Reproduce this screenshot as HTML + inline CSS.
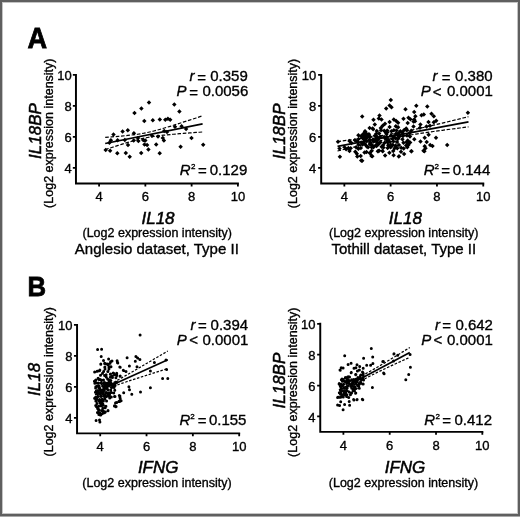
<!DOCTYPE html><html><head><meta charset="utf-8"><style>
html,body{margin:0;padding:0;background:#fff;width:520px;height:517px;overflow:hidden}
svg{display:block}
text{font-family:"Liberation Sans",Arial,sans-serif;fill:#000;stroke:#000;stroke-width:0.35px}
.t{font-size:13px}
.s{font-size:15px}
.i{font-style:italic}
.ti{font-size:17px;font-style:italic;stroke-width:0.5px}
.lg{font-size:12.5px}
.ds{font-size:15px}
.pl{font-size:28.5px;font-weight:bold;stroke-width:0.8px}
</style></head><body>
<div><svg width="520" height="517" viewBox="0 0 520 517">
<rect x="0" y="0" width="520" height="517" fill="#fff"/>
<rect x="2.5" y="2.5" width="515" height="511" fill="none" stroke="#c4c4c4" stroke-width="1"/>
<rect x="1" y="1" width="518" height="514" fill="none" stroke="#5f5f5f" stroke-width="2"/>
<rect x="0" y="516" width="520" height="1" fill="#a8a8a8"/>
<text class="pl" x="27.6" y="47.6" style="font-size:30px" textLength="19.6" lengthAdjust="spacingAndGlyphs">A</text>
<text class="pl" x="27.4" y="295.5" textLength="18.6" lengthAdjust="spacingAndGlyphs">B</text>
<path d="M75.95 74.85V183.4H237.9" fill="none" stroke="#000" stroke-width="1.95" stroke-linejoin="miter" stroke-linecap="square"/>
<path d="M75.95 167.89h-3.1M99.09 183.4v3M75.95 136.88h-3.1M145.36 183.4v3M75.95 105.86h-3.1M191.63 183.4v3M75.95 74.85h-3.1M237.9 183.4v3" fill="none" stroke="#000" stroke-width="1.8"/>
<text class="t" x="71.7" y="173.39" text-anchor="end">4</text>
<text class="t" x="99.09" y="201.2" text-anchor="middle">4</text>
<text class="t" x="71.7" y="142.38" text-anchor="end">6</text>
<text class="t" x="145.36" y="201.2" text-anchor="middle">6</text>
<text class="t" x="71.7" y="111.36" text-anchor="end">8</text>
<text class="t" x="191.63" y="201.2" text-anchor="middle">8</text>
<text class="t" x="71.7" y="80.35" text-anchor="end">10</text>
<text class="t" x="237.9" y="201.2" text-anchor="middle">10</text>
<text class="s i" x="189.38" y="81.4">r</text>
<text class="s" x="197.35" y="82.6">=</text>
<text class="s" x="210.2" y="81.4">0.359</text>
<text class="s i" x="176.45" y="96.4">P</text>
<text class="s" x="189.15" y="97.6">=</text>
<text class="s" x="202.4" y="96.4">0.0056</text>
<text class="s i" x="179.85" y="174.5">R</text>
<text x="191.1" y="169.06" font-size="8">2</text>
<text class="s" x="198.05" y="175.7">=</text>
<text class="s" x="209.7" y="174.5">0.129</text>
<text class="ti" x="158" y="223.7" text-anchor="middle">IL18</text>
<text class="lg" x="157.2" y="236.6" text-anchor="middle">(Log2 expression intensity)</text>
<text class="ds" x="156.8" y="253.6" text-anchor="middle">Anglesio dataset, Type II</text>
<text class="ti" text-anchor="middle" transform="translate(40.6 131) rotate(-90)">IL18BP</text>
<text class="lg" text-anchor="middle" transform="translate(52.8 133.2) rotate(-90)">(Log2 expression intensity)</text>
<path d="M149 100.25l2.25 2.25-2.25 2.25-2.25-2.25zM141.4 106.15l2.25 2.25-2.25 2.25-2.25-2.25zM134.5 110.65l2.25 2.25-2.25 2.25-2.25-2.25zM174.3 102.25l2.25 2.25-2.25 2.25-2.25-2.25zM179.4 109.35l2.25 2.25-2.25 2.25-2.25-2.25zM144.3 118.75l2.25 2.25-2.25 2.25-2.25-2.25zM152.8 118.05l2.25 2.25-2.25 2.25-2.25-2.25zM159.8 117.15l2.25 2.25-2.25 2.25-2.25-2.25zM165.3 117.45l2.25 2.25-2.25 2.25-2.25-2.25zM167.9 116.45l2.25 2.25-2.25 2.25-2.25-2.25zM170.2 117.55l2.25 2.25-2.25 2.25-2.25-2.25zM175 124.55l2.25 2.25-2.25 2.25-2.25-2.25zM181.6 123.95l2.25 2.25-2.25 2.25-2.25-2.25zM186.1 126.75l2.25 2.25-2.25 2.25-2.25-2.25zM113.5 132.35l2.25 2.25-2.25 2.25-2.25-2.25zM122.6 129.15l2.25 2.25-2.25 2.25-2.25-2.25zM127.8 128.05l2.25 2.25-2.25 2.25-2.25-2.25zM133.9 131.05l2.25 2.25-2.25 2.25-2.25-2.25zM164.2 128.75l2.25 2.25-2.25 2.25-2.25-2.25zM167 129.75l2.25 2.25-2.25 2.25-2.25-2.25zM152 133.55l2.25 2.25-2.25 2.25-2.25-2.25zM158 134.35l2.25 2.25-2.25 2.25-2.25-2.25zM162.8 135.65l2.25 2.25-2.25 2.25-2.25-2.25zM163.9 138.25l2.25 2.25-2.25 2.25-2.25-2.25zM110.9 137.95l2.25 2.25-2.25 2.25-2.25-2.25zM109.4 140.55l2.25 2.25-2.25 2.25-2.25-2.25zM117.6 137.95l2.25 2.25-2.25 2.25-2.25-2.25zM124.8 137.65l2.25 2.25-2.25 2.25-2.25-2.25zM133.7 138.35l2.25 2.25-2.25 2.25-2.25-2.25zM138 135.75l2.25 2.25-2.25 2.25-2.25-2.25zM138.4 138.75l2.25 2.25-2.25 2.25-2.25-2.25zM143.2 137.85l2.25 2.25-2.25 2.25-2.25-2.25zM145.3 138.35l2.25 2.25-2.25 2.25-2.25-2.25zM191.5 135.85l2.25 2.25-2.25 2.25-2.25-2.25zM128 142.75l2.25 2.25-2.25 2.25-2.25-2.25zM144.5 142.15l2.25 2.25-2.25 2.25-2.25-2.25zM147.1 142.75l2.25 2.25-2.25 2.25-2.25-2.25zM156.2 142.35l2.25 2.25-2.25 2.25-2.25-2.25zM148.4 147.35l2.25 2.25-2.25 2.25-2.25-2.25zM180.6 144.45l2.25 2.25-2.25 2.25-2.25-2.25zM203.2 142.45l2.25 2.25-2.25 2.25-2.25-2.25zM105.7 147.75l2.25 2.25-2.25 2.25-2.25-2.25zM110.1 148.45l2.25 2.25-2.25 2.25-2.25-2.25zM117.3 150.95l2.25 2.25-2.25 2.25-2.25-2.25zM125.8 150.65l2.25 2.25-2.25 2.25-2.25-2.25zM129.7 154.45l2.25 2.25-2.25 2.25-2.25-2.25zM141.2 150.75l2.25 2.25-2.25 2.25-2.25-2.25zM159.7 150.95l2.25 2.25-2.25 2.25-2.25-2.25z" fill="#000"/>
<path d="M105.2 143.5L202.6 123.9" stroke="#000" stroke-width="1.7" fill="none"/>
<path d="M105.2 137.41 L108.45 137.16 L111.69 136.9 L114.94 136.63 L118.19 136.35 L121.43 136.06 L124.68 135.75 L127.93 135.42 L131.17 135.06 L134.42 134.67 L137.67 134.22 L140.91 133.72 L144.16 133.15 L147.41 132.5 L150.65 131.77 L153.9 130.98 L157.15 130.12 L160.39 129.22 L163.64 128.27 L166.89 127.3 L170.13 126.31 L173.38 125.29 L176.63 124.27 L179.87 123.23 L183.12 122.19 L186.37 121.13 L189.61 120.08 L192.86 119.01 L196.11 117.95 L199.35 116.88 L202.6 115.81" stroke="#000" stroke-width="1.2" fill="none" stroke-dasharray="3.6 1.7"/>
<path d="M105.2 149.59 L108.45 148.53 L111.69 147.49 L114.94 146.45 L118.19 145.42 L121.43 144.41 L124.68 143.41 L127.93 142.43 L131.17 141.49 L134.42 140.57 L137.67 139.71 L140.91 138.91 L144.16 138.17 L147.41 137.51 L150.65 136.93 L153.9 136.42 L157.15 135.97 L160.39 135.57 L163.64 135.21 L166.89 134.87 L170.13 134.56 L173.38 134.27 L176.63 133.98 L179.87 133.72 L183.12 133.45 L186.37 133.2 L189.61 132.95 L192.86 132.71 L196.11 132.47 L199.35 132.23 L202.6 131.99" stroke="#000" stroke-width="1.2" fill="none" stroke-dasharray="3.6 1.7"/>
<path d="M321.2 74.95V183.45H483.26" fill="none" stroke="#000" stroke-width="1.95" stroke-linejoin="miter" stroke-linecap="square"/>
<path d="M321.2 167.95h-3.1M344.35 183.45v3M321.2 136.95h-3.1M390.65 183.45v3M321.2 105.95h-3.1M436.96 183.45v3M321.2 74.95h-3.1M483.26 183.45v3" fill="none" stroke="#000" stroke-width="1.8"/>
<text class="t" x="316.2" y="173.45" text-anchor="end">4</text>
<text class="t" x="344.35" y="201.2" text-anchor="middle">4</text>
<text class="t" x="316.2" y="142.45" text-anchor="end">6</text>
<text class="t" x="390.65" y="201.2" text-anchor="middle">6</text>
<text class="t" x="316.2" y="111.45" text-anchor="end">8</text>
<text class="t" x="436.96" y="201.2" text-anchor="middle">8</text>
<text class="t" x="316.2" y="80.45" text-anchor="end">10</text>
<text class="t" x="483.26" y="201.2" text-anchor="middle">10</text>
<text class="s i" x="432.57" y="81.4">r</text>
<text class="s" x="441.85" y="82.6">=</text>
<text class="s" x="455.1" y="81.4">0.380</text>
<text class="s i" x="420.65" y="96.4">P</text>
<text class="s" x="432.65" y="96.7">&lt;</text>
<text class="s" x="447" y="96.4">0.0001</text>
<text class="s i" x="423.75" y="174.5">R</text>
<text x="434.6" y="169.06" font-size="8">2</text>
<text class="s" x="441.15" y="175.7">=</text>
<text class="s" x="452.7" y="174.5">0.144</text>
<text class="ti" x="405.4" y="223.7" text-anchor="middle">IL18</text>
<text class="lg" x="403.7" y="236.6" text-anchor="middle">(Log2 expression intensity)</text>
<text class="ds" x="403.8" y="253.9" text-anchor="middle">Tothill dataset, Type II</text>
<text class="ti" text-anchor="middle" transform="translate(284.6 131.4) rotate(-90)">IL18BP</text>
<text class="lg" text-anchor="middle" transform="translate(297 133.5) rotate(-90)">(Log2 expression intensity)</text>
<path d="M390.8 97.75l2.25 2.25-2.25 2.25-2.25-2.25zM389.6 103.15l2.25 2.25-2.25 2.25-2.25-2.25zM391.5 105.05l2.25 2.25-2.25 2.25-2.25-2.25zM386.2 106.25l2.25 2.25-2.25 2.25-2.25-2.25zM379.5 113.35l2.25 2.25-2.25 2.25-2.25-2.25zM378.8 116.25l2.25 2.25-2.25 2.25-2.25-2.25zM381.5 117.25l2.25 2.25-2.25 2.25-2.25-2.25zM373.5 117.55l2.25 2.25-2.25 2.25-2.25-2.25zM374.8 122.35l2.25 2.25-2.25 2.25-2.25-2.25zM389.6 119.65l2.25 2.25-2.25 2.25-2.25-2.25zM393.8 117.25l2.25 2.25-2.25 2.25-2.25-2.25zM396.2 118.75l2.25 2.25-2.25 2.25-2.25-2.25zM398.1 120.45l2.25 2.25-2.25 2.25-2.25-2.25zM389.6 124.65l2.25 2.25-2.25 2.25-2.25-2.25zM395.8 123.95l2.25 2.25-2.25 2.25-2.25-2.25zM398.1 125.05l2.25 2.25-2.25 2.25-2.25-2.25zM403.5 116.55l2.25 2.25-2.25 2.25-2.25-2.25zM385 121.55l2.25 2.25-2.25 2.25-2.25-2.25zM382.7 123.55l2.25 2.25-2.25 2.25-2.25-2.25zM380.8 125.85l2.25 2.25-2.25 2.25-2.25-2.25zM369.6 125.85l2.25 2.25-2.25 2.25-2.25-2.25zM372.7 126.25l2.25 2.25-2.25 2.25-2.25-2.25zM405.5 107.05l2.25 2.25-2.25 2.25-2.25-2.25zM362.2 114.15l2.25 2.25-2.25 2.25-2.25-2.25zM416.3 103.55l2.25 2.25-2.25 2.25-2.25-2.25zM427.3 104.25l2.25 2.25-2.25 2.25-2.25-2.25zM414.2 109.65l2.25 2.25-2.25 2.25-2.25-2.25zM421.5 112.95l2.25 2.25-2.25 2.25-2.25-2.25zM423.8 112.35l2.25 2.25-2.25 2.25-2.25-2.25zM431.5 111.55l2.25 2.25-2.25 2.25-2.25-2.25zM433.8 113.95l2.25 2.25-2.25 2.25-2.25-2.25zM415.4 113.95l2.25 2.25-2.25 2.25-2.25-2.25zM408.5 115.45l2.25 2.25-2.25 2.25-2.25-2.25zM410.4 116.95l2.25 2.25-2.25 2.25-2.25-2.25zM414.2 117.35l2.25 2.25-2.25 2.25-2.25-2.25zM415 118.95l2.25 2.25-2.25 2.25-2.25-2.25zM413.5 119.25l2.25 2.25-2.25 2.25-2.25-2.25zM407.7 120.85l2.25 2.25-2.25 2.25-2.25-2.25zM428.5 119.65l2.25 2.25-2.25 2.25-2.25-2.25zM433.8 120.05l2.25 2.25-2.25 2.25-2.25-2.25zM436.2 118.55l2.25 2.25-2.25 2.25-2.25-2.25zM420.4 122.35l2.25 2.25-2.25 2.25-2.25-2.25zM413.5 124.15l2.25 2.25-2.25 2.25-2.25-2.25zM406.2 126.25l2.25 2.25-2.25 2.25-2.25-2.25zM430 123.55l2.25 2.25-2.25 2.25-2.25-2.25zM426.5 124.25l2.25 2.25-2.25 2.25-2.25-2.25zM420 125.45l2.25 2.25-2.25 2.25-2.25-2.25zM467.9 110.45l2.25 2.25-2.25 2.25-2.25-2.25zM338 139.55l2.25 2.25-2.25 2.25-2.25-2.25zM339.9 154.55l2.25 2.25-2.25 2.25-2.25-2.25zM339.5 146.15l2.25 2.25-2.25 2.25-2.25-2.25zM365.3 129.25l2.25 2.25-2.25 2.25-2.25-2.25zM358.4 133.05l2.25 2.25-2.25 2.25-2.25-2.25zM349.5 138.85l2.25 2.25-2.25 2.25-2.25-2.25zM354.9 138.05l2.25 2.25-2.25 2.25-2.25-2.25zM351.5 140.75l2.25 2.25-2.25 2.25-2.25-2.25zM348.4 145.75l2.25 2.25-2.25 2.25-2.25-2.25zM350.7 145.95l2.25 2.25-2.25 2.25-2.25-2.25zM349.5 148.85l2.25 2.25-2.25 2.25-2.25-2.25zM356.1 144.95l2.25 2.25-2.25 2.25-2.25-2.25zM358.4 146.55l2.25 2.25-2.25 2.25-2.25-2.25zM355.3 149.55l2.25 2.25-2.25 2.25-2.25-2.25zM356.8 151.55l2.25 2.25-2.25 2.25-2.25-2.25zM360.7 153.85l2.25 2.25-2.25 2.25-2.25-2.25zM362.2 158.45l2.25 2.25-2.25 2.25-2.25-2.25zM364.5 150.35l2.25 2.25-2.25 2.25-2.25-2.25zM366.8 144.25l2.25 2.25-2.25 2.25-2.25-2.25zM369.9 150.75l2.25 2.25-2.25 2.25-2.25-2.25zM371.5 153.85l2.25 2.25-2.25 2.25-2.25-2.25zM344.5 144.95l2.25 2.25-2.25 2.25-2.25-2.25zM346.1 146.95l2.25 2.25-2.25 2.25-2.25-2.25zM372.3 154.05l2.25 2.25-2.25 2.25-2.25-2.25zM370 150.95l2.25 2.25-2.25 2.25-2.25-2.25zM366.5 149.85l2.25 2.25-2.25 2.25-2.25-2.25zM377.8 149.05l2.25 2.25-2.25 2.25-2.25-2.25zM382.4 148.85l2.25 2.25-2.25 2.25-2.25-2.25zM385.1 153.25l2.25 2.25-2.25 2.25-2.25-2.25zM389.4 150.55l2.25 2.25-2.25 2.25-2.25-2.25zM393.2 148.85l2.25 2.25-2.25 2.25-2.25-2.25zM393.6 152.95l2.25 2.25-2.25 2.25-2.25-2.25zM399 154.05l2.25 2.25-2.25 2.25-2.25-2.25zM401 149.45l2.25 2.25-2.25 2.25-2.25-2.25zM404.1 151.75l2.25 2.25-2.25 2.25-2.25-2.25zM395.5 143.65l2.25 2.25-2.25 2.25-2.25-2.25zM388.2 139.75l2.25 2.25-2.25 2.25-2.25-2.25zM391 142.75l2.25 2.25-2.25 2.25-2.25-2.25zM388.5 144.75l2.25 2.25-2.25 2.25-2.25-2.25zM376.6 143.65l2.25 2.25-2.25 2.25-2.25-2.25zM381.6 144.45l2.25 2.25-2.25 2.25-2.25-2.25zM373.1 127.05l2.25 2.25-2.25 2.25-2.25-2.25zM365 128.95l2.25 2.25-2.25 2.25-2.25-2.25zM387.4 130.05l2.25 2.25-2.25 2.25-2.25-2.25zM368.1 132.85l2.25 2.25-2.25 2.25-2.25-2.25zM428.6 132.45l2.25 2.25-2.25 2.25-2.25-2.25zM436 135.55l2.25 2.25-2.25 2.25-2.25-2.25zM424.7 135.55l2.25 2.25-2.25 2.25-2.25-2.25zM414.3 137.05l2.25 2.25-2.25 2.25-2.25-2.25zM420.5 139.35l2.25 2.25-2.25 2.25-2.25-2.25zM426.7 139.75l2.25 2.25-2.25 2.25-2.25-2.25zM430.2 142.85l2.25 2.25-2.25 2.25-2.25-2.25zM432.5 143.65l2.25 2.25-2.25 2.25-2.25-2.25zM424.7 144.05l2.25 2.25-2.25 2.25-2.25-2.25zM425.5 145.95l2.25 2.25-2.25 2.25-2.25-2.25zM424.4 149.05l2.25 2.25-2.25 2.25-2.25-2.25zM411.6 149.05l2.25 2.25-2.25 2.25-2.25-2.25zM407.7 138.25l2.25 2.25-2.25 2.25-2.25-2.25zM408.5 141.35l2.25 2.25-2.25 2.25-2.25-2.25zM407.3 144.75l2.25 2.25-2.25 2.25-2.25-2.25zM410 134.35l2.25 2.25-2.25 2.25-2.25-2.25zM447.2 142.85l2.25 2.25-2.25 2.25-2.25-2.25zM355.8 150.05l2.25 2.25-2.25 2.25-2.25-2.25zM378.1 148.95l2.25 2.25-2.25 2.25-2.25-2.25zM398.8 154.25l2.25 2.25-2.25 2.25-2.25-2.25zM411.2 148.95l2.25 2.25-2.25 2.25-2.25-2.25zM423.5 148.55l2.25 2.25-2.25 2.25-2.25-2.25zM357.3 154.25l2.25 2.25-2.25 2.25-2.25-2.25zM361.2 158.15l2.25 2.25-2.25 2.25-2.25-2.25zM376.79 128.86l2.25 2.25-2.25 2.25-2.25-2.25zM381.02 128.01l2.25 2.25-2.25 2.25-2.25-2.25zM384.22 128.45l2.25 2.25-2.25 2.25-2.25-2.25zM387.24 128.15l2.25 2.25-2.25 2.25-2.25-2.25zM391.44 129.04l2.25 2.25-2.25 2.25-2.25-2.25zM393.86 127.95l2.25 2.25-2.25 2.25-2.25-2.25zM396.49 128.26l2.25 2.25-2.25 2.25-2.25-2.25zM400.36 128.95l2.25 2.25-2.25 2.25-2.25-2.25zM403.95 127.9l2.25 2.25-2.25 2.25-2.25-2.25zM406.87 127.74l2.25 2.25-2.25 2.25-2.25-2.25zM411.25 128.6l2.25 2.25-2.25 2.25-2.25-2.25zM363.23 131.67l2.25 2.25-2.25 2.25-2.25-2.25zM366.55 131.61l2.25 2.25-2.25 2.25-2.25-2.25zM368.97 131.96l2.25 2.25-2.25 2.25-2.25-2.25zM376.21 131.54l2.25 2.25-2.25 2.25-2.25-2.25zM379.15 131.18l2.25 2.25-2.25 2.25-2.25-2.25zM386.23 130.96l2.25 2.25-2.25 2.25-2.25-2.25zM395.71 131.86l2.25 2.25-2.25 2.25-2.25-2.25zM398.88 130.75l2.25 2.25-2.25 2.25-2.25-2.25zM402.52 130.66l2.25 2.25-2.25 2.25-2.25-2.25zM409.46 130.89l2.25 2.25-2.25 2.25-2.25-2.25zM360.96 134.09l2.25 2.25-2.25 2.25-2.25-2.25zM364.39 133.76l2.25 2.25-2.25 2.25-2.25-2.25zM367.57 134.76l2.25 2.25-2.25 2.25-2.25-2.25zM370.17 134.58l2.25 2.25-2.25 2.25-2.25-2.25zM374.8 133.57l2.25 2.25-2.25 2.25-2.25-2.25zM376.74 134.31l2.25 2.25-2.25 2.25-2.25-2.25zM380.31 134.66l2.25 2.25-2.25 2.25-2.25-2.25zM384.09 134.63l2.25 2.25-2.25 2.25-2.25-2.25zM386.89 134.67l2.25 2.25-2.25 2.25-2.25-2.25zM391 133.31l2.25 2.25-2.25 2.25-2.25-2.25zM393.43 134.34l2.25 2.25-2.25 2.25-2.25-2.25zM397.98 133.3l2.25 2.25-2.25 2.25-2.25-2.25zM399.78 133.67l2.25 2.25-2.25 2.25-2.25-2.25zM403.3 133.56l2.25 2.25-2.25 2.25-2.25-2.25zM406.97 133.33l2.25 2.25-2.25 2.25-2.25-2.25zM358.56 136.68l2.25 2.25-2.25 2.25-2.25-2.25zM362.99 136.31l2.25 2.25-2.25 2.25-2.25-2.25zM365.15 136.85l2.25 2.25-2.25 2.25-2.25-2.25zM369.58 137.58l2.25 2.25-2.25 2.25-2.25-2.25zM373.08 137.26l2.25 2.25-2.25 2.25-2.25-2.25zM375.36 137.19l2.25 2.25-2.25 2.25-2.25-2.25zM378.46 136.85l2.25 2.25-2.25 2.25-2.25-2.25zM385.84 136.76l2.25 2.25-2.25 2.25-2.25-2.25zM388.43 137.67l2.25 2.25-2.25 2.25-2.25-2.25zM392.47 136.81l2.25 2.25-2.25 2.25-2.25-2.25zM395.69 136.36l2.25 2.25-2.25 2.25-2.25-2.25zM398.15 136.39l2.25 2.25-2.25 2.25-2.25-2.25zM402.42 136.95l2.25 2.25-2.25 2.25-2.25-2.25zM357.56 139.41l2.25 2.25-2.25 2.25-2.25-2.25zM361.15 140.29l2.25 2.25-2.25 2.25-2.25-2.25zM363.86 139.68l2.25 2.25-2.25 2.25-2.25-2.25zM366.76 139.06l2.25 2.25-2.25 2.25-2.25-2.25zM370.23 140.16l2.25 2.25-2.25 2.25-2.25-2.25zM373.51 139.3l2.25 2.25-2.25 2.25-2.25-2.25zM377 139.84l2.25 2.25-2.25 2.25-2.25-2.25zM380.45 140.03l2.25 2.25-2.25 2.25-2.25-2.25zM384.7 140.55l2.25 2.25-2.25 2.25-2.25-2.25zM387.24 139.82l2.25 2.25-2.25 2.25-2.25-2.25zM389.93 139.67l2.25 2.25-2.25 2.25-2.25-2.25zM393.44 139.16l2.25 2.25-2.25 2.25-2.25-2.25zM397.04 139.84l2.25 2.25-2.25 2.25-2.25-2.25zM403.51 140.58l2.25 2.25-2.25 2.25-2.25-2.25zM406.38 140.1l2.25 2.25-2.25 2.25-2.25-2.25zM410.14 140.35l2.25 2.25-2.25 2.25-2.25-2.25zM358.53 142.6l2.25 2.25-2.25 2.25-2.25-2.25zM362.58 142.21l2.25 2.25-2.25 2.25-2.25-2.25zM365.22 142.33l2.25 2.25-2.25 2.25-2.25-2.25zM369.9 142l2.25 2.25-2.25 2.25-2.25-2.25zM372.01 142.79l2.25 2.25-2.25 2.25-2.25-2.25zM375.74 143.08l2.25 2.25-2.25 2.25-2.25-2.25zM378.49 142.07l2.25 2.25-2.25 2.25-2.25-2.25zM382.96 142.9l2.25 2.25-2.25 2.25-2.25-2.25zM388.24 142.93l2.25 2.25-2.25 2.25-2.25-2.25zM392.66 142.67l2.25 2.25-2.25 2.25-2.25-2.25zM395.53 143.15l2.25 2.25-2.25 2.25-2.25-2.25zM398.94 142.64l2.25 2.25-2.25 2.25-2.25-2.25zM406.19 143.21l2.25 2.25-2.25 2.25-2.25-2.25zM408.37 142.66l2.25 2.25-2.25 2.25-2.25-2.25zM360.83 145.83l2.25 2.25-2.25 2.25-2.25-2.25zM368.06 144.9l2.25 2.25-2.25 2.25-2.25-2.25zM371.65 144.98l2.25 2.25-2.25 2.25-2.25-2.25zM373.46 144.88l2.25 2.25-2.25 2.25-2.25-2.25zM383.46 145.22l2.25 2.25-2.25 2.25-2.25-2.25zM387.62 145.84l2.25 2.25-2.25 2.25-2.25-2.25zM390.69 144.93l2.25 2.25-2.25 2.25-2.25-2.25zM394.67 145.96l2.25 2.25-2.25 2.25-2.25-2.25zM397.28 145.89l2.25 2.25-2.25 2.25-2.25-2.25zM401.18 145.48l2.25 2.25-2.25 2.25-2.25-2.25zM403.7 146.34l2.25 2.25-2.25 2.25-2.25-2.25zM407.27 144.98l2.25 2.25-2.25 2.25-2.25-2.25zM371.75 148.57l2.25 2.25-2.25 2.25-2.25-2.25zM379.12 148.39l2.25 2.25-2.25 2.25-2.25-2.25zM382.74 149.12l2.25 2.25-2.25 2.25-2.25-2.25z" fill="#000"/>
<path d="M337.5 146.3L468.5 121.8" stroke="#000" stroke-width="1.7" fill="none"/>
<path d="M337.5 141.57 L341.87 141.01 L346.23 140.44 L350.6 139.87 L354.97 139.3 L359.33 138.71 L363.7 138.12 L368.07 137.51 L372.43 136.89 L376.8 136.26 L381.17 135.6 L385.53 134.91 L389.9 134.2 L394.27 133.45 L398.63 132.66 L403 131.84 L407.37 130.98 L411.73 130.08 L416.1 129.15 L420.47 128.19 L424.83 127.21 L429.2 126.2 L433.57 125.19 L437.93 124.15 L442.3 123.11 L446.67 122.06 L451.03 121 L455.4 119.93 L459.77 118.86 L464.13 117.78 L468.5 116.71" stroke="#000" stroke-width="1.2" fill="none" stroke-dasharray="3.6 1.7"/>
<path d="M337.5 151.03 L341.87 149.96 L346.23 148.89 L350.6 147.83 L354.97 146.77 L359.33 145.72 L363.7 144.68 L368.07 143.65 L372.43 142.64 L376.8 141.64 L381.17 140.67 L385.53 139.72 L389.9 138.8 L394.27 137.92 L398.63 137.07 L403 136.26 L407.37 135.49 L411.73 134.75 L416.1 134.05 L420.47 133.38 L424.83 132.73 L429.2 132.1 L433.57 131.48 L437.93 130.88 L442.3 130.29 L446.67 129.71 L451.03 129.14 L455.4 128.57 L459.77 128.01 L464.13 127.45 L468.5 126.89" stroke="#000" stroke-width="1.2" fill="none" stroke-dasharray="3.6 1.7"/>
<path d="M77.05 324.95V433.35H239.18" fill="none" stroke="#000" stroke-width="1.95" stroke-linejoin="miter" stroke-linecap="square"/>
<path d="M77.05 417.86h-3.1M100.21 433.35v3M77.05 386.89h-3.1M146.53 433.35v3M77.05 355.92h-3.1M192.86 433.35v3M77.05 324.95h-3.1M239.18 433.35v3" fill="none" stroke="#000" stroke-width="1.8"/>
<text class="t" x="72.5" y="423.36" text-anchor="end">4</text>
<text class="t" x="100.21" y="451.3" text-anchor="middle">4</text>
<text class="t" x="72.5" y="392.39" text-anchor="end">6</text>
<text class="t" x="146.53" y="451.3" text-anchor="middle">6</text>
<text class="t" x="72.5" y="361.42" text-anchor="end">8</text>
<text class="t" x="192.86" y="451.3" text-anchor="middle">8</text>
<text class="t" x="72.5" y="330.45" text-anchor="end">10</text>
<text class="t" x="239.18" y="451.3" text-anchor="middle">10</text>
<text class="s i" x="190.58" y="329.8">r</text>
<text class="s" x="198.05" y="331">=</text>
<text class="s" x="210.6" y="329.8">0.394</text>
<text class="s i" x="176.85" y="344.6">P</text>
<text class="s" x="189.25" y="344.9">&lt;</text>
<text class="s" x="202.5" y="344.6">0.0001</text>
<text class="s i" x="179.45" y="424.5">R</text>
<text x="190.3" y="419.06" font-size="8">2</text>
<text class="s" x="197.65" y="425.7">=</text>
<text class="s" x="208.9" y="424.5">0.155</text>
<text class="ti" x="158.2" y="473.4" text-anchor="middle">IFNG</text>
<text class="lg" x="157" y="486.6" text-anchor="middle">(Log2 expression intensity)</text>
<text class="ti" text-anchor="middle" transform="translate(40.3 379.4) rotate(-90)">IL18</text>
<text class="lg" text-anchor="middle" transform="translate(52.8 381.8) rotate(-90)">(Log2 expression intensity)</text>
<path d="M138.6 335.1a1.5 1.5 0 1 0 3 0a1.5 1.5 0 1 0 -3 0zM96.1 349.4a1.5 1.5 0 1 0 3 0a1.5 1.5 0 1 0 -3 0zM100.1 349.3a1.5 1.5 0 1 0 3 0a1.5 1.5 0 1 0 -3 0zM99.7 356.4a1.5 1.5 0 1 0 3 0a1.5 1.5 0 1 0 -3 0zM107.1 358.9a1.5 1.5 0 1 0 3 0a1.5 1.5 0 1 0 -3 0zM102 360.5a1.5 1.5 0 1 0 3 0a1.5 1.5 0 1 0 -3 0zM110.5 361a1.5 1.5 0 1 0 3 0a1.5 1.5 0 1 0 -3 0zM115.6 360.7a1.5 1.5 0 1 0 3 0a1.5 1.5 0 1 0 -3 0zM116 362.8a1.5 1.5 0 1 0 3 0a1.5 1.5 0 1 0 -3 0zM125.6 357.8a1.5 1.5 0 1 0 3 0a1.5 1.5 0 1 0 -3 0zM99.3 364.1a1.5 1.5 0 1 0 3 0a1.5 1.5 0 1 0 -3 0zM103.2 363.2a1.5 1.5 0 1 0 3 0a1.5 1.5 0 1 0 -3 0zM105.1 364a1.5 1.5 0 1 0 3 0a1.5 1.5 0 1 0 -3 0zM106.7 364.7a1.5 1.5 0 1 0 3 0a1.5 1.5 0 1 0 -3 0zM108.6 363.2a1.5 1.5 0 1 0 3 0a1.5 1.5 0 1 0 -3 0zM103.3 367.2a1.5 1.5 0 1 0 3 0a1.5 1.5 0 1 0 -3 0zM107.4 367.1a1.5 1.5 0 1 0 3 0a1.5 1.5 0 1 0 -3 0zM109.4 366.7a1.5 1.5 0 1 0 3 0a1.5 1.5 0 1 0 -3 0zM118.7 367.2a1.5 1.5 0 1 0 3 0a1.5 1.5 0 1 0 -3 0zM127.9 365.9a1.5 1.5 0 1 0 3 0a1.5 1.5 0 1 0 -3 0zM95.8 371.3a1.5 1.5 0 1 0 3 0a1.5 1.5 0 1 0 -3 0zM98.2 370.5a1.5 1.5 0 1 0 3 0a1.5 1.5 0 1 0 -3 0zM106.3 371.6a1.5 1.5 0 1 0 3 0a1.5 1.5 0 1 0 -3 0zM121.8 370.2a1.5 1.5 0 1 0 3 0a1.5 1.5 0 1 0 -3 0zM124.5 371.6a1.5 1.5 0 1 0 3 0a1.5 1.5 0 1 0 -3 0zM109 374a1.5 1.5 0 1 0 3 0a1.5 1.5 0 1 0 -3 0zM111.7 372.9a1.5 1.5 0 1 0 3 0a1.5 1.5 0 1 0 -3 0zM115.2 373.3a1.5 1.5 0 1 0 3 0a1.5 1.5 0 1 0 -3 0zM118.7 376a1.5 1.5 0 1 0 3 0a1.5 1.5 0 1 0 -3 0zM134.4 356.4a1.5 1.5 0 1 0 3 0a1.5 1.5 0 1 0 -3 0zM136.1 358a1.5 1.5 0 1 0 3 0a1.5 1.5 0 1 0 -3 0zM138.4 359.5a1.5 1.5 0 1 0 3 0a1.5 1.5 0 1 0 -3 0zM133.8 361.2a1.5 1.5 0 1 0 3 0a1.5 1.5 0 1 0 -3 0zM135.5 366.8a1.5 1.5 0 1 0 3 0a1.5 1.5 0 1 0 -3 0zM152.9 362.4a1.5 1.5 0 1 0 3 0a1.5 1.5 0 1 0 -3 0zM164.5 360.1a1.5 1.5 0 1 0 3 0a1.5 1.5 0 1 0 -3 0zM148.9 371.1a1.5 1.5 0 1 0 3 0a1.5 1.5 0 1 0 -3 0zM165.1 369.6a1.5 1.5 0 1 0 3 0a1.5 1.5 0 1 0 -3 0zM161.1 378.6a1.5 1.5 0 1 0 3 0a1.5 1.5 0 1 0 -3 0zM166.3 378.4a1.5 1.5 0 1 0 3 0a1.5 1.5 0 1 0 -3 0zM148.9 387.7a1.5 1.5 0 1 0 3 0a1.5 1.5 0 1 0 -3 0zM139 392a1.5 1.5 0 1 0 3 0a1.5 1.5 0 1 0 -3 0zM130.3 394.3a1.5 1.5 0 1 0 3 0a1.5 1.5 0 1 0 -3 0zM127.4 386.8a1.5 1.5 0 1 0 3 0a1.5 1.5 0 1 0 -3 0zM128 389.7a1.5 1.5 0 1 0 3 0a1.5 1.5 0 1 0 -3 0zM122.2 392.8a1.5 1.5 0 1 0 3 0a1.5 1.5 0 1 0 -3 0zM118.4 396a1.5 1.5 0 1 0 3 0a1.5 1.5 0 1 0 -3 0zM118.7 398.4a1.5 1.5 0 1 0 3 0a1.5 1.5 0 1 0 -3 0zM118.1 401.5a1.5 1.5 0 1 0 3 0a1.5 1.5 0 1 0 -3 0zM115.2 402.4a1.5 1.5 0 1 0 3 0a1.5 1.5 0 1 0 -3 0zM94.6 420.4a1.5 1.5 0 1 0 3 0a1.5 1.5 0 1 0 -3 0zM98 420a1.5 1.5 0 1 0 3 0a1.5 1.5 0 1 0 -3 0zM98.4 421.9a1.5 1.5 0 1 0 3 0a1.5 1.5 0 1 0 -3 0zM106.5 410.8a1.5 1.5 0 1 0 3 0a1.5 1.5 0 1 0 -3 0zM98.8 415a1.5 1.5 0 1 0 3 0a1.5 1.5 0 1 0 -3 0zM100.7 413.8a1.5 1.5 0 1 0 3 0a1.5 1.5 0 1 0 -3 0zM97.3 412.7a1.5 1.5 0 1 0 3 0a1.5 1.5 0 1 0 -3 0zM103 412.7a1.5 1.5 0 1 0 3 0a1.5 1.5 0 1 0 -3 0zM97.3 409.6a1.5 1.5 0 1 0 3 0a1.5 1.5 0 1 0 -3 0zM94.2 405.4a1.5 1.5 0 1 0 3 0a1.5 1.5 0 1 0 -3 0zM93.4 398.5a1.5 1.5 0 1 0 3 0a1.5 1.5 0 1 0 -3 0zM113 396.5a1.5 1.5 0 1 0 3 0a1.5 1.5 0 1 0 -3 0zM118.4 397.3a1.5 1.5 0 1 0 3 0a1.5 1.5 0 1 0 -3 0zM114.2 402.7a1.5 1.5 0 1 0 3 0a1.5 1.5 0 1 0 -3 0zM113 405.8a1.5 1.5 0 1 0 3 0a1.5 1.5 0 1 0 -3 0zM114.6 406.5a1.5 1.5 0 1 0 3 0a1.5 1.5 0 1 0 -3 0zM117.7 401.5a1.5 1.5 0 1 0 3 0a1.5 1.5 0 1 0 -3 0zM119.6 400.8a1.5 1.5 0 1 0 3 0a1.5 1.5 0 1 0 -3 0zM99.3 364.2a1.5 1.5 0 1 0 3 0a1.5 1.5 0 1 0 -3 0zM103.1 363.4a1.5 1.5 0 1 0 3 0a1.5 1.5 0 1 0 -3 0zM106.1 364.1a1.5 1.5 0 1 0 3 0a1.5 1.5 0 1 0 -3 0zM109.1 361.7a1.5 1.5 0 1 0 3 0a1.5 1.5 0 1 0 -3 0zM115.9 362a1.5 1.5 0 1 0 3 0a1.5 1.5 0 1 0 -3 0zM116.3 363a1.5 1.5 0 1 0 3 0a1.5 1.5 0 1 0 -3 0zM103.4 367.1a1.5 1.5 0 1 0 3 0a1.5 1.5 0 1 0 -3 0zM108.1 367.1a1.5 1.5 0 1 0 3 0a1.5 1.5 0 1 0 -3 0zM109.5 366.8a1.5 1.5 0 1 0 3 0a1.5 1.5 0 1 0 -3 0zM118.3 367.1a1.5 1.5 0 1 0 3 0a1.5 1.5 0 1 0 -3 0zM122 370.5a1.5 1.5 0 1 0 3 0a1.5 1.5 0 1 0 -3 0zM95.6 371.2a1.5 1.5 0 1 0 3 0a1.5 1.5 0 1 0 -3 0zM98 370.8a1.5 1.5 0 1 0 3 0a1.5 1.5 0 1 0 -3 0zM106.4 371.5a1.5 1.5 0 1 0 3 0a1.5 1.5 0 1 0 -3 0zM101 373.2a1.5 1.5 0 1 0 3 0a1.5 1.5 0 1 0 -3 0zM99 375.2a1.5 1.5 0 1 0 3 0a1.5 1.5 0 1 0 -3 0zM103.1 375.6a1.5 1.5 0 1 0 3 0a1.5 1.5 0 1 0 -3 0zM104.7 376.9a1.5 1.5 0 1 0 3 0a1.5 1.5 0 1 0 -3 0zM108.8 374.2a1.5 1.5 0 1 0 3 0a1.5 1.5 0 1 0 -3 0zM112.2 373.2a1.5 1.5 0 1 0 3 0a1.5 1.5 0 1 0 -3 0zM115.2 373.9a1.5 1.5 0 1 0 3 0a1.5 1.5 0 1 0 -3 0zM110.8 376.2a1.5 1.5 0 1 0 3 0a1.5 1.5 0 1 0 -3 0zM118.6 376.2a1.5 1.5 0 1 0 3 0a1.5 1.5 0 1 0 -3 0zM96.6 378.3a1.5 1.5 0 1 0 3 0a1.5 1.5 0 1 0 -3 0zM98.7 379.6a1.5 1.5 0 1 0 3 0a1.5 1.5 0 1 0 -3 0zM102 380a1.5 1.5 0 1 0 3 0a1.5 1.5 0 1 0 -3 0zM106.1 379a1.5 1.5 0 1 0 3 0a1.5 1.5 0 1 0 -3 0zM108.1 380.3a1.5 1.5 0 1 0 3 0a1.5 1.5 0 1 0 -3 0zM92.9 381.3a1.5 1.5 0 1 0 3 0a1.5 1.5 0 1 0 -3 0zM94.6 382.7a1.5 1.5 0 1 0 3 0a1.5 1.5 0 1 0 -3 0zM100 383.4a1.5 1.5 0 1 0 3 0a1.5 1.5 0 1 0 -3 0zM102.7 383.7a1.5 1.5 0 1 0 3 0a1.5 1.5 0 1 0 -3 0zM106.8 383a1.5 1.5 0 1 0 3 0a1.5 1.5 0 1 0 -3 0zM94.6 386.7a1.5 1.5 0 1 0 3 0a1.5 1.5 0 1 0 -3 0zM98 387.8a1.5 1.5 0 1 0 3 0a1.5 1.5 0 1 0 -3 0zM115.2 382.3a1.5 1.5 0 1 0 3 0a1.5 1.5 0 1 0 -3 0zM94.3 386.7a1.5 1.5 0 1 0 3 0a1.5 1.5 0 1 0 -3 0zM113.5 396.6a1.5 1.5 0 1 0 3 0a1.5 1.5 0 1 0 -3 0zM114 403a1.5 1.5 0 1 0 3 0a1.5 1.5 0 1 0 -3 0zM112.9 405.9a1.5 1.5 0 1 0 3 0a1.5 1.5 0 1 0 -3 0zM114.3 406.8a1.5 1.5 0 1 0 3 0a1.5 1.5 0 1 0 -3 0zM106.5 410.5a1.5 1.5 0 1 0 3 0a1.5 1.5 0 1 0 -3 0zM117.5 401.3a1.5 1.5 0 1 0 3 0a1.5 1.5 0 1 0 -3 0zM117.8 395.4a1.5 1.5 0 1 0 3 0a1.5 1.5 0 1 0 -3 0zM93.1 398.3a1.5 1.5 0 1 0 3 0a1.5 1.5 0 1 0 -3 0zM94.3 405.6a1.5 1.5 0 1 0 3 0a1.5 1.5 0 1 0 -3 0zM108.2 398.1a1.5 1.5 0 1 0 3 0a1.5 1.5 0 1 0 -3 0zM96.95 383.11a1.5 1.5 0 1 0 3 0a1.5 1.5 0 1 0 -3 0zM99.65 382.74a1.5 1.5 0 1 0 3 0a1.5 1.5 0 1 0 -3 0zM102.5 382.97a1.5 1.5 0 1 0 3 0a1.5 1.5 0 1 0 -3 0zM105.29 383.23a1.5 1.5 0 1 0 3 0a1.5 1.5 0 1 0 -3 0zM107.27 383.43a1.5 1.5 0 1 0 3 0a1.5 1.5 0 1 0 -3 0zM110.06 383.7a1.5 1.5 0 1 0 3 0a1.5 1.5 0 1 0 -3 0zM112.79 383.47a1.5 1.5 0 1 0 3 0a1.5 1.5 0 1 0 -3 0zM95.91 385.63a1.5 1.5 0 1 0 3 0a1.5 1.5 0 1 0 -3 0zM97.64 385.96a1.5 1.5 0 1 0 3 0a1.5 1.5 0 1 0 -3 0zM101.06 385.98a1.5 1.5 0 1 0 3 0a1.5 1.5 0 1 0 -3 0zM103.91 385.4a1.5 1.5 0 1 0 3 0a1.5 1.5 0 1 0 -3 0zM105.93 386.05a1.5 1.5 0 1 0 3 0a1.5 1.5 0 1 0 -3 0zM108.12 385.09a1.5 1.5 0 1 0 3 0a1.5 1.5 0 1 0 -3 0zM111.76 385.45a1.5 1.5 0 1 0 3 0a1.5 1.5 0 1 0 -3 0zM113.56 385.53a1.5 1.5 0 1 0 3 0a1.5 1.5 0 1 0 -3 0zM94.12 387.89a1.5 1.5 0 1 0 3 0a1.5 1.5 0 1 0 -3 0zM97.39 388a1.5 1.5 0 1 0 3 0a1.5 1.5 0 1 0 -3 0zM102.69 387.99a1.5 1.5 0 1 0 3 0a1.5 1.5 0 1 0 -3 0zM105.13 388.34a1.5 1.5 0 1 0 3 0a1.5 1.5 0 1 0 -3 0zM110.16 387.44a1.5 1.5 0 1 0 3 0a1.5 1.5 0 1 0 -3 0zM112.59 387.53a1.5 1.5 0 1 0 3 0a1.5 1.5 0 1 0 -3 0zM96.02 390.64a1.5 1.5 0 1 0 3 0a1.5 1.5 0 1 0 -3 0zM98.56 389.94a1.5 1.5 0 1 0 3 0a1.5 1.5 0 1 0 -3 0zM100.55 390.37a1.5 1.5 0 1 0 3 0a1.5 1.5 0 1 0 -3 0zM102.85 390.19a1.5 1.5 0 1 0 3 0a1.5 1.5 0 1 0 -3 0zM106.26 389.85a1.5 1.5 0 1 0 3 0a1.5 1.5 0 1 0 -3 0zM109.18 390.05a1.5 1.5 0 1 0 3 0a1.5 1.5 0 1 0 -3 0zM113.29 390.17a1.5 1.5 0 1 0 3 0a1.5 1.5 0 1 0 -3 0zM93.94 392.2a1.5 1.5 0 1 0 3 0a1.5 1.5 0 1 0 -3 0zM96.49 391.76a1.5 1.5 0 1 0 3 0a1.5 1.5 0 1 0 -3 0zM99.28 392.86a1.5 1.5 0 1 0 3 0a1.5 1.5 0 1 0 -3 0zM101.95 392.26a1.5 1.5 0 1 0 3 0a1.5 1.5 0 1 0 -3 0zM104.87 392.42a1.5 1.5 0 1 0 3 0a1.5 1.5 0 1 0 -3 0zM107.44 392.84a1.5 1.5 0 1 0 3 0a1.5 1.5 0 1 0 -3 0zM109.82 392.57a1.5 1.5 0 1 0 3 0a1.5 1.5 0 1 0 -3 0zM112.26 392.88a1.5 1.5 0 1 0 3 0a1.5 1.5 0 1 0 -3 0zM95.66 393.99a1.5 1.5 0 1 0 3 0a1.5 1.5 0 1 0 -3 0zM98.3 394a1.5 1.5 0 1 0 3 0a1.5 1.5 0 1 0 -3 0zM100.96 394.04a1.5 1.5 0 1 0 3 0a1.5 1.5 0 1 0 -3 0zM103.36 394.79a1.5 1.5 0 1 0 3 0a1.5 1.5 0 1 0 -3 0zM106.25 394.86a1.5 1.5 0 1 0 3 0a1.5 1.5 0 1 0 -3 0zM108.07 394.78a1.5 1.5 0 1 0 3 0a1.5 1.5 0 1 0 -3 0zM94.25 396.95a1.5 1.5 0 1 0 3 0a1.5 1.5 0 1 0 -3 0zM96.74 396.61a1.5 1.5 0 1 0 3 0a1.5 1.5 0 1 0 -3 0zM99.61 396.59a1.5 1.5 0 1 0 3 0a1.5 1.5 0 1 0 -3 0zM102.43 396.27a1.5 1.5 0 1 0 3 0a1.5 1.5 0 1 0 -3 0zM104.98 396.61a1.5 1.5 0 1 0 3 0a1.5 1.5 0 1 0 -3 0zM107.66 396.52a1.5 1.5 0 1 0 3 0a1.5 1.5 0 1 0 -3 0zM109.82 397.07a1.5 1.5 0 1 0 3 0a1.5 1.5 0 1 0 -3 0zM95.39 398.9a1.5 1.5 0 1 0 3 0a1.5 1.5 0 1 0 -3 0zM98.13 399.52a1.5 1.5 0 1 0 3 0a1.5 1.5 0 1 0 -3 0zM100.6 399.28a1.5 1.5 0 1 0 3 0a1.5 1.5 0 1 0 -3 0zM103.34 398.77a1.5 1.5 0 1 0 3 0a1.5 1.5 0 1 0 -3 0zM94.34 400.99a1.5 1.5 0 1 0 3 0a1.5 1.5 0 1 0 -3 0zM97.31 400.98a1.5 1.5 0 1 0 3 0a1.5 1.5 0 1 0 -3 0zM99.87 401.53a1.5 1.5 0 1 0 3 0a1.5 1.5 0 1 0 -3 0zM101.91 400.91a1.5 1.5 0 1 0 3 0a1.5 1.5 0 1 0 -3 0zM105.05 401.08a1.5 1.5 0 1 0 3 0a1.5 1.5 0 1 0 -3 0zM95.5 403.52a1.5 1.5 0 1 0 3 0a1.5 1.5 0 1 0 -3 0zM98.7 403.21a1.5 1.5 0 1 0 3 0a1.5 1.5 0 1 0 -3 0zM101.33 404.08a1.5 1.5 0 1 0 3 0a1.5 1.5 0 1 0 -3 0zM94.84 406.39a1.5 1.5 0 1 0 3 0a1.5 1.5 0 1 0 -3 0zM97.19 406.29a1.5 1.5 0 1 0 3 0a1.5 1.5 0 1 0 -3 0zM99.52 405.63a1.5 1.5 0 1 0 3 0a1.5 1.5 0 1 0 -3 0zM101.77 405.36a1.5 1.5 0 1 0 3 0a1.5 1.5 0 1 0 -3 0zM104.44 406.25a1.5 1.5 0 1 0 3 0a1.5 1.5 0 1 0 -3 0zM96.08 408.38a1.5 1.5 0 1 0 3 0a1.5 1.5 0 1 0 -3 0zM101.28 408.24a1.5 1.5 0 1 0 3 0a1.5 1.5 0 1 0 -3 0zM103.69 407.75a1.5 1.5 0 1 0 3 0a1.5 1.5 0 1 0 -3 0zM97.1 410.44a1.5 1.5 0 1 0 3 0a1.5 1.5 0 1 0 -3 0zM100.03 410.54a1.5 1.5 0 1 0 3 0a1.5 1.5 0 1 0 -3 0zM101.8 410.84a1.5 1.5 0 1 0 3 0a1.5 1.5 0 1 0 -3 0zM95.94 412.49a1.5 1.5 0 1 0 3 0a1.5 1.5 0 1 0 -3 0zM98.24 413.05a1.5 1.5 0 1 0 3 0a1.5 1.5 0 1 0 -3 0zM101.15 413.17a1.5 1.5 0 1 0 3 0a1.5 1.5 0 1 0 -3 0zM103.79 412.08a1.5 1.5 0 1 0 3 0a1.5 1.5 0 1 0 -3 0zM97.34 414.39a1.5 1.5 0 1 0 3 0a1.5 1.5 0 1 0 -3 0zM99.22 414.96a1.5 1.5 0 1 0 3 0a1.5 1.5 0 1 0 -3 0zM98.33 369.94a1.5 1.5 0 1 0 3 0a1.5 1.5 0 1 0 -3 0zM103.52 368.97a1.5 1.5 0 1 0 3 0a1.5 1.5 0 1 0 -3 0zM107.42 368.94a1.5 1.5 0 1 0 3 0a1.5 1.5 0 1 0 -3 0zM93.13 372.1a1.5 1.5 0 1 0 3 0a1.5 1.5 0 1 0 -3 0zM102.1 371.58a1.5 1.5 0 1 0 3 0a1.5 1.5 0 1 0 -3 0zM104.63 374.81a1.5 1.5 0 1 0 3 0a1.5 1.5 0 1 0 -3 0zM112.76 374.7a1.5 1.5 0 1 0 3 0a1.5 1.5 0 1 0 -3 0zM115.31 375.41a1.5 1.5 0 1 0 3 0a1.5 1.5 0 1 0 -3 0zM108.82 377.34a1.5 1.5 0 1 0 3 0a1.5 1.5 0 1 0 -3 0zM110.96 377.48a1.5 1.5 0 1 0 3 0a1.5 1.5 0 1 0 -3 0zM114.43 377.63a1.5 1.5 0 1 0 3 0a1.5 1.5 0 1 0 -3 0zM94.34 380.03a1.5 1.5 0 1 0 3 0a1.5 1.5 0 1 0 -3 0zM97.52 379.5a1.5 1.5 0 1 0 3 0a1.5 1.5 0 1 0 -3 0zM100.23 380.32a1.5 1.5 0 1 0 3 0a1.5 1.5 0 1 0 -3 0zM107.39 380.83a1.5 1.5 0 1 0 3 0a1.5 1.5 0 1 0 -3 0zM109.36 380.6a1.5 1.5 0 1 0 3 0a1.5 1.5 0 1 0 -3 0zM93.34 383.32a1.5 1.5 0 1 0 3 0a1.5 1.5 0 1 0 -3 0zM103.14 382.43a1.5 1.5 0 1 0 3 0a1.5 1.5 0 1 0 -3 0zM109.35 382.85a1.5 1.5 0 1 0 3 0a1.5 1.5 0 1 0 -3 0zM114.71 382.81a1.5 1.5 0 1 0 3 0a1.5 1.5 0 1 0 -3 0z" fill="#000"/>
<path d="M95 392.7L167.8 359.8" stroke="#000" stroke-width="1.7" fill="none"/>
<path d="M95 390.67 L97.43 389.78 L99.85 388.85 L102.28 387.86 L104.71 386.81 L107.13 385.69 L109.56 384.49 L111.99 383.24 L114.41 381.95 L116.84 380.62 L119.27 379.26 L121.69 377.89 L124.12 376.51 L126.55 375.12 L128.97 373.73 L131.4 372.32 L133.83 370.92 L136.25 369.51 L138.68 368.09 L141.11 366.68 L143.53 365.26 L145.96 363.84 L148.39 362.42 L150.81 361 L153.24 359.58 L155.67 358.16 L158.09 356.74 L160.52 355.31 L162.95 353.89 L165.37 352.46 L167.8 351.04" stroke="#000" stroke-width="1.2" fill="none" stroke-dasharray="2.5 1.6"/>
<path d="M95 394.73 L97.43 393.43 L99.85 392.17 L102.28 390.96 L104.71 389.81 L107.13 388.75 L109.56 387.75 L111.99 386.8 L114.41 385.91 L116.84 385.04 L119.27 384.2 L121.69 383.38 L124.12 382.57 L126.55 381.76 L128.97 380.97 L131.4 380.18 L133.83 379.39 L136.25 378.61 L138.68 377.83 L141.11 377.05 L143.53 376.27 L145.96 375.5 L148.39 374.72 L150.81 373.95 L153.24 373.18 L155.67 372.41 L158.09 371.64 L160.52 370.87 L162.95 370.1 L165.37 369.33 L167.8 368.56" stroke="#000" stroke-width="1.2" fill="none" stroke-dasharray="2.5 1.6"/>
<path d="M320.25 323.8V431.85H482.33" fill="none" stroke="#000" stroke-width="1.95" stroke-linejoin="miter" stroke-linecap="square"/>
<path d="M320.25 416.41h-3.1M343.4 431.85v3M320.25 385.54h-3.1M389.71 431.85v3M320.25 354.67h-3.1M436.02 431.85v3M320.25 323.8h-3.1M482.33 431.85v3" fill="none" stroke="#000" stroke-width="1.8"/>
<text class="t" x="315.5" y="421.91" text-anchor="end">4</text>
<text class="t" x="343.4" y="450.3" text-anchor="middle">4</text>
<text class="t" x="315.5" y="391.04" text-anchor="end">6</text>
<text class="t" x="389.71" y="450.3" text-anchor="middle">6</text>
<text class="t" x="315.5" y="360.17" text-anchor="end">8</text>
<text class="t" x="436.02" y="450.3" text-anchor="middle">8</text>
<text class="t" x="315.5" y="329.3" text-anchor="end">10</text>
<text class="t" x="482.33" y="450.3" text-anchor="middle">10</text>
<text class="s i" x="434.88" y="329.8">r</text>
<text class="s" x="442.25" y="331">=</text>
<text class="s" x="455.4" y="329.8">0.642</text>
<text class="s i" x="421.25" y="344.6">P</text>
<text class="s" x="433.45" y="344.9">&lt;</text>
<text class="s" x="447" y="344.6">0.0001</text>
<text class="s i" x="424.35" y="424.6">R</text>
<text x="435.4" y="419.06" font-size="8">2</text>
<text class="s" x="442.35" y="425.8">=</text>
<text class="s" x="454.5" y="424.6">0.412</text>
<text class="ti" x="405" y="473.2" text-anchor="middle">IFNG</text>
<text class="lg" x="403.5" y="486.6" text-anchor="middle">(Log2 expression intensity)</text>
<text class="ti" text-anchor="middle" transform="translate(284.6 380.6) rotate(-90)">IL18BP</text>
<text class="lg" text-anchor="middle" transform="translate(297 382.2) rotate(-90)">(Log2 expression intensity)</text>
<path d="M369.8 348.5a1.5 1.5 0 1 0 3 0a1.5 1.5 0 1 0 -3 0zM343.2 355.7a1.5 1.5 0 1 0 3 0a1.5 1.5 0 1 0 -3 0zM362.1 358.3a1.5 1.5 0 1 0 3 0a1.5 1.5 0 1 0 -3 0zM371.2 357a1.5 1.5 0 1 0 3 0a1.5 1.5 0 1 0 -3 0zM346.6 364.5a1.5 1.5 0 1 0 3 0a1.5 1.5 0 1 0 -3 0zM349.6 363.2a1.5 1.5 0 1 0 3 0a1.5 1.5 0 1 0 -3 0zM355.5 364.7a1.5 1.5 0 1 0 3 0a1.5 1.5 0 1 0 -3 0zM358.2 366.5a1.5 1.5 0 1 0 3 0a1.5 1.5 0 1 0 -3 0zM365.2 365.3a1.5 1.5 0 1 0 3 0a1.5 1.5 0 1 0 -3 0zM369.1 365.3a1.5 1.5 0 1 0 3 0a1.5 1.5 0 1 0 -3 0zM371.4 363.6a1.5 1.5 0 1 0 3 0a1.5 1.5 0 1 0 -3 0zM339.7 367.8a1.5 1.5 0 1 0 3 0a1.5 1.5 0 1 0 -3 0zM341.6 368a1.5 1.5 0 1 0 3 0a1.5 1.5 0 1 0 -3 0zM338.5 370.1a1.5 1.5 0 1 0 3 0a1.5 1.5 0 1 0 -3 0zM352.5 368.2a1.5 1.5 0 1 0 3 0a1.5 1.5 0 1 0 -3 0zM354.4 367.8a1.5 1.5 0 1 0 3 0a1.5 1.5 0 1 0 -3 0zM361.7 368.2a1.5 1.5 0 1 0 3 0a1.5 1.5 0 1 0 -3 0zM355.9 370.9a1.5 1.5 0 1 0 3 0a1.5 1.5 0 1 0 -3 0zM357.9 370.1a1.5 1.5 0 1 0 3 0a1.5 1.5 0 1 0 -3 0zM349.7 372.5a1.5 1.5 0 1 0 3 0a1.5 1.5 0 1 0 -3 0zM361 372.1a1.5 1.5 0 1 0 3 0a1.5 1.5 0 1 0 -3 0zM361.7 373.2a1.5 1.5 0 1 0 3 0a1.5 1.5 0 1 0 -3 0zM354.4 374.4a1.5 1.5 0 1 0 3 0a1.5 1.5 0 1 0 -3 0zM359 375.5a1.5 1.5 0 1 0 3 0a1.5 1.5 0 1 0 -3 0zM347 376.7a1.5 1.5 0 1 0 3 0a1.5 1.5 0 1 0 -3 0zM340.5 379a1.5 1.5 0 1 0 3 0a1.5 1.5 0 1 0 -3 0zM352.4 400a1.5 1.5 0 1 0 3 0a1.5 1.5 0 1 0 -3 0zM355.5 399.8a1.5 1.5 0 1 0 3 0a1.5 1.5 0 1 0 -3 0zM361.3 399.7a1.5 1.5 0 1 0 3 0a1.5 1.5 0 1 0 -3 0zM370.9 387.5a1.5 1.5 0 1 0 3 0a1.5 1.5 0 1 0 -3 0zM354.3 392.9a1.5 1.5 0 1 0 3 0a1.5 1.5 0 1 0 -3 0zM357.8 388.2a1.5 1.5 0 1 0 3 0a1.5 1.5 0 1 0 -3 0zM361.7 384a1.5 1.5 0 1 0 3 0a1.5 1.5 0 1 0 -3 0zM336.1 404.9a1.5 1.5 0 1 0 3 0a1.5 1.5 0 1 0 -3 0zM338.1 405.6a1.5 1.5 0 1 0 3 0a1.5 1.5 0 1 0 -3 0zM341.6 409.7a1.5 1.5 0 1 0 3 0a1.5 1.5 0 1 0 -3 0zM347.7 401.4a1.5 1.5 0 1 0 3 0a1.5 1.5 0 1 0 -3 0zM348.1 405.3a1.5 1.5 0 1 0 3 0a1.5 1.5 0 1 0 -3 0zM343.1 404.5a1.5 1.5 0 1 0 3 0a1.5 1.5 0 1 0 -3 0zM339.2 401.8a1.5 1.5 0 1 0 3 0a1.5 1.5 0 1 0 -3 0zM336.1 397.5a1.5 1.5 0 1 0 3 0a1.5 1.5 0 1 0 -3 0zM337.7 383.6a1.5 1.5 0 1 0 3 0a1.5 1.5 0 1 0 -3 0zM349.7 372.8a1.5 1.5 0 1 0 3 0a1.5 1.5 0 1 0 -3 0zM354.3 374.7a1.5 1.5 0 1 0 3 0a1.5 1.5 0 1 0 -3 0zM392.5 353.8a1.5 1.5 0 1 0 3 0a1.5 1.5 0 1 0 -3 0zM408.9 367.3a1.5 1.5 0 1 0 3 0a1.5 1.5 0 1 0 -3 0zM407.2 374.6a1.5 1.5 0 1 0 3 0a1.5 1.5 0 1 0 -3 0zM404.3 379.8a1.5 1.5 0 1 0 3 0a1.5 1.5 0 1 0 -3 0zM381.3 361.6a1.5 1.5 0 1 0 3 0a1.5 1.5 0 1 0 -3 0zM382.1 372.9a1.5 1.5 0 1 0 3 0a1.5 1.5 0 1 0 -3 0zM392.4 354.1a1.5 1.5 0 1 0 3 0a1.5 1.5 0 1 0 -3 0zM396.2 355.2a1.5 1.5 0 1 0 3 0a1.5 1.5 0 1 0 -3 0zM408.6 354.5a1.5 1.5 0 1 0 3 0a1.5 1.5 0 1 0 -3 0zM392 360.9a1.5 1.5 0 1 0 3 0a1.5 1.5 0 1 0 -3 0zM382.6 373.8a1.5 1.5 0 1 0 3 0a1.5 1.5 0 1 0 -3 0zM381.9 361.6a1.5 1.5 0 1 0 3 0a1.5 1.5 0 1 0 -3 0zM338.7 370.3a1.5 1.5 0 1 0 3 0a1.5 1.5 0 1 0 -3 0zM349.8 372.6a1.5 1.5 0 1 0 3 0a1.5 1.5 0 1 0 -3 0zM354.1 374.4a1.5 1.5 0 1 0 3 0a1.5 1.5 0 1 0 -3 0zM337.6 383.9a1.5 1.5 0 1 0 3 0a1.5 1.5 0 1 0 -3 0zM357.3 385.7a1.5 1.5 0 1 0 3 0a1.5 1.5 0 1 0 -3 0zM357.3 388a1.5 1.5 0 1 0 3 0a1.5 1.5 0 1 0 -3 0zM361.4 383.9a1.5 1.5 0 1 0 3 0a1.5 1.5 0 1 0 -3 0zM354.1 393.2a1.5 1.5 0 1 0 3 0a1.5 1.5 0 1 0 -3 0zM352.1 399.6a1.5 1.5 0 1 0 3 0a1.5 1.5 0 1 0 -3 0zM355.6 399.6a1.5 1.5 0 1 0 3 0a1.5 1.5 0 1 0 -3 0zM360.8 399.3a1.5 1.5 0 1 0 3 0a1.5 1.5 0 1 0 -3 0zM336.4 397.3a1.5 1.5 0 1 0 3 0a1.5 1.5 0 1 0 -3 0zM359.27 374.95a1.5 1.5 0 1 0 3 0a1.5 1.5 0 1 0 -3 0zM361.73 374.96a1.5 1.5 0 1 0 3 0a1.5 1.5 0 1 0 -3 0zM343.86 377.57a1.5 1.5 0 1 0 3 0a1.5 1.5 0 1 0 -3 0zM346.04 376.98a1.5 1.5 0 1 0 3 0a1.5 1.5 0 1 0 -3 0zM348.03 376.91a1.5 1.5 0 1 0 3 0a1.5 1.5 0 1 0 -3 0zM356.37 377.61a1.5 1.5 0 1 0 3 0a1.5 1.5 0 1 0 -3 0zM358.27 377.4a1.5 1.5 0 1 0 3 0a1.5 1.5 0 1 0 -3 0zM361.43 377.71a1.5 1.5 0 1 0 3 0a1.5 1.5 0 1 0 -3 0zM339.88 379.63a1.5 1.5 0 1 0 3 0a1.5 1.5 0 1 0 -3 0zM341.86 379.39a1.5 1.5 0 1 0 3 0a1.5 1.5 0 1 0 -3 0zM345.27 379.86a1.5 1.5 0 1 0 3 0a1.5 1.5 0 1 0 -3 0zM347.01 379.92a1.5 1.5 0 1 0 3 0a1.5 1.5 0 1 0 -3 0zM350.21 379.84a1.5 1.5 0 1 0 3 0a1.5 1.5 0 1 0 -3 0zM352.15 379.54a1.5 1.5 0 1 0 3 0a1.5 1.5 0 1 0 -3 0zM354.34 379.19a1.5 1.5 0 1 0 3 0a1.5 1.5 0 1 0 -3 0zM356.7 378.88a1.5 1.5 0 1 0 3 0a1.5 1.5 0 1 0 -3 0zM359.49 379.47a1.5 1.5 0 1 0 3 0a1.5 1.5 0 1 0 -3 0zM362.06 380.02a1.5 1.5 0 1 0 3 0a1.5 1.5 0 1 0 -3 0zM340.9 381.24a1.5 1.5 0 1 0 3 0a1.5 1.5 0 1 0 -3 0zM343.23 381.43a1.5 1.5 0 1 0 3 0a1.5 1.5 0 1 0 -3 0zM345.78 381.67a1.5 1.5 0 1 0 3 0a1.5 1.5 0 1 0 -3 0zM348.02 381.07a1.5 1.5 0 1 0 3 0a1.5 1.5 0 1 0 -3 0zM351.32 381.74a1.5 1.5 0 1 0 3 0a1.5 1.5 0 1 0 -3 0zM353.3 381.21a1.5 1.5 0 1 0 3 0a1.5 1.5 0 1 0 -3 0zM355.45 381.84a1.5 1.5 0 1 0 3 0a1.5 1.5 0 1 0 -3 0zM359.05 381.88a1.5 1.5 0 1 0 3 0a1.5 1.5 0 1 0 -3 0zM339.5 384.33a1.5 1.5 0 1 0 3 0a1.5 1.5 0 1 0 -3 0zM342.14 384.31a1.5 1.5 0 1 0 3 0a1.5 1.5 0 1 0 -3 0zM345.13 383.53a1.5 1.5 0 1 0 3 0a1.5 1.5 0 1 0 -3 0zM347.18 383.34a1.5 1.5 0 1 0 3 0a1.5 1.5 0 1 0 -3 0zM350.3 383.57a1.5 1.5 0 1 0 3 0a1.5 1.5 0 1 0 -3 0zM351.7 383.38a1.5 1.5 0 1 0 3 0a1.5 1.5 0 1 0 -3 0zM354.59 383.52a1.5 1.5 0 1 0 3 0a1.5 1.5 0 1 0 -3 0zM357.83 383.68a1.5 1.5 0 1 0 3 0a1.5 1.5 0 1 0 -3 0zM359.22 383.24a1.5 1.5 0 1 0 3 0a1.5 1.5 0 1 0 -3 0zM338.71 385.53a1.5 1.5 0 1 0 3 0a1.5 1.5 0 1 0 -3 0zM340.99 385.65a1.5 1.5 0 1 0 3 0a1.5 1.5 0 1 0 -3 0zM346.04 386.28a1.5 1.5 0 1 0 3 0a1.5 1.5 0 1 0 -3 0zM349.09 385.92a1.5 1.5 0 1 0 3 0a1.5 1.5 0 1 0 -3 0zM350.89 385.39a1.5 1.5 0 1 0 3 0a1.5 1.5 0 1 0 -3 0zM353.2 386.42a1.5 1.5 0 1 0 3 0a1.5 1.5 0 1 0 -3 0zM356 385.39a1.5 1.5 0 1 0 3 0a1.5 1.5 0 1 0 -3 0zM339.44 387.77a1.5 1.5 0 1 0 3 0a1.5 1.5 0 1 0 -3 0zM342.69 387.7a1.5 1.5 0 1 0 3 0a1.5 1.5 0 1 0 -3 0zM345.26 388.2a1.5 1.5 0 1 0 3 0a1.5 1.5 0 1 0 -3 0zM350.23 388.31a1.5 1.5 0 1 0 3 0a1.5 1.5 0 1 0 -3 0zM352.54 388.12a1.5 1.5 0 1 0 3 0a1.5 1.5 0 1 0 -3 0zM354.4 388.57a1.5 1.5 0 1 0 3 0a1.5 1.5 0 1 0 -3 0zM339.01 390.1a1.5 1.5 0 1 0 3 0a1.5 1.5 0 1 0 -3 0zM341.36 390.47a1.5 1.5 0 1 0 3 0a1.5 1.5 0 1 0 -3 0zM343.53 390.49a1.5 1.5 0 1 0 3 0a1.5 1.5 0 1 0 -3 0zM345.72 390.81a1.5 1.5 0 1 0 3 0a1.5 1.5 0 1 0 -3 0zM351.57 390.85a1.5 1.5 0 1 0 3 0a1.5 1.5 0 1 0 -3 0zM352.95 390.78a1.5 1.5 0 1 0 3 0a1.5 1.5 0 1 0 -3 0zM337.81 392.68a1.5 1.5 0 1 0 3 0a1.5 1.5 0 1 0 -3 0zM339.35 392.64a1.5 1.5 0 1 0 3 0a1.5 1.5 0 1 0 -3 0zM342.55 392.99a1.5 1.5 0 1 0 3 0a1.5 1.5 0 1 0 -3 0zM344.15 392.98a1.5 1.5 0 1 0 3 0a1.5 1.5 0 1 0 -3 0zM347.7 392.01a1.5 1.5 0 1 0 3 0a1.5 1.5 0 1 0 -3 0zM350.09 392.93a1.5 1.5 0 1 0 3 0a1.5 1.5 0 1 0 -3 0zM338.95 394.29a1.5 1.5 0 1 0 3 0a1.5 1.5 0 1 0 -3 0zM340.8 395.12a1.5 1.5 0 1 0 3 0a1.5 1.5 0 1 0 -3 0zM343.47 394.68a1.5 1.5 0 1 0 3 0a1.5 1.5 0 1 0 -3 0zM345.44 394.76a1.5 1.5 0 1 0 3 0a1.5 1.5 0 1 0 -3 0zM348.94 394.78a1.5 1.5 0 1 0 3 0a1.5 1.5 0 1 0 -3 0zM337.09 397.15a1.5 1.5 0 1 0 3 0a1.5 1.5 0 1 0 -3 0zM339.16 397.23a1.5 1.5 0 1 0 3 0a1.5 1.5 0 1 0 -3 0zM341.75 396.88a1.5 1.5 0 1 0 3 0a1.5 1.5 0 1 0 -3 0zM345.09 396.6a1.5 1.5 0 1 0 3 0a1.5 1.5 0 1 0 -3 0zM347.23 397.38a1.5 1.5 0 1 0 3 0a1.5 1.5 0 1 0 -3 0z" fill="#000"/>
<path d="M339 390.3L409.8 352.4" stroke="#000" stroke-width="1.7" fill="none"/>
<path d="M339 386.89 L341.36 385.79 L343.72 384.68 L346.08 383.57 L348.44 382.44 L350.8 381.3 L353.16 380.15 L355.52 378.98 L357.88 377.79 L360.24 376.58 L362.6 375.35 L364.96 374.1 L367.32 372.83 L369.68 371.53 L372.04 370.21 L374.4 368.88 L376.76 367.52 L379.12 366.15 L381.48 364.76 L383.84 363.36 L386.2 361.95 L388.56 360.53 L390.92 359.1 L393.28 357.66 L395.64 356.22 L398 354.78 L400.36 353.33 L402.72 351.87 L405.08 350.41 L407.44 348.95 L409.8 347.49" stroke="#000" stroke-width="1.2" fill="none" stroke-dasharray="2.6 1.6"/>
<path d="M339 393.71 L341.36 392.28 L343.72 390.86 L346.08 389.45 L348.44 388.05 L350.8 386.66 L353.16 385.29 L355.52 383.93 L357.88 382.59 L360.24 381.28 L362.6 379.98 L364.96 378.7 L367.32 377.45 L369.68 376.22 L372.04 375.01 L374.4 373.82 L376.76 372.65 L379.12 371.5 L381.48 370.36 L383.84 369.23 L386.2 368.12 L388.56 367.01 L390.92 365.91 L393.28 364.82 L395.64 363.74 L398 362.66 L400.36 361.58 L402.72 360.51 L405.08 359.44 L407.44 358.38 L409.8 357.31" stroke="#000" stroke-width="1.2" fill="none" stroke-dasharray="2.6 1.6"/>
</svg></div></body></html>
